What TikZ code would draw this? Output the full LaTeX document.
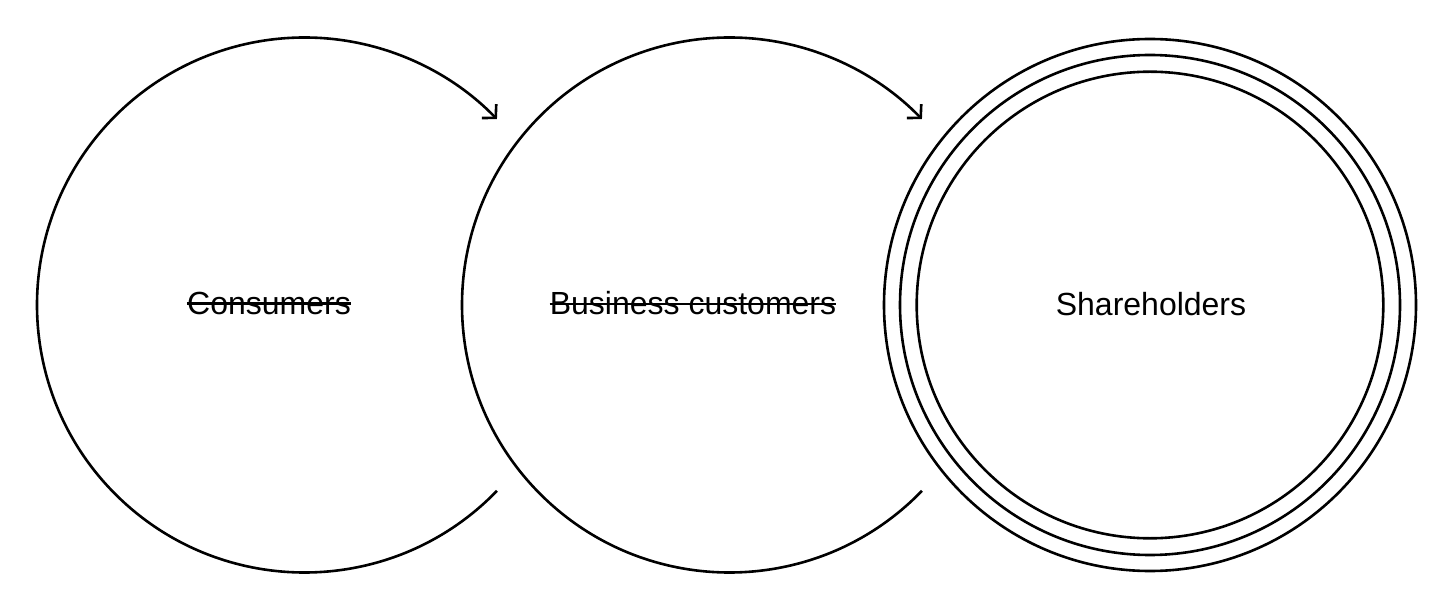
\documentclass[tikz,border=0pt]{standalone}
\usepackage{fontspec}
\setmainfont{Liberation Sans}
\usetikzlibrary{arrows.meta}
\begin{document}
\begin{tikzpicture}[x=1pt,y=1pt,
  ring/.style={line width=2.6pt,draw=black},
  flow/.style={line width=2.6pt,draw=black,-{Straight Barb[length=9.5pt,width=20pt,line width=2.6pt]}},
  label/.style={inner sep=0pt,anchor=base,font=\fontsize{32}{38}\selectfont},
  strike/.style={line width=2.2pt,draw=black}]
\useasboundingbox (0,0) rectangle (1456,611);
\coordinate (c1) at (304.5,306);
\coordinate (c2) at (729.5,306);
\coordinate (c3) at (1150,306);
% first open circle with arrow
\draw[flow] (c1) ++(-44:267.5) arc[start angle=-44,end angle=-316,radius=267.5];
% second open circle with arrow
\draw[flow] (c2) ++(-44:267.5) arc[start angle=-44,end angle=-316,radius=267.5];
% concentric circles
\draw[ring] (c3) circle[radius=266];
\draw[ring] (c3) circle[radius=250];
\draw[ring] (c3) circle[radius=233.3];
% labels
\node[label] (t1) at (269,296) {Consumers};
\node[label] (t2) at (693,296) {Business customers};
\node[label] (t3) at (1151,295) {Shareholders};
\draw[strike] ([yshift=11.5pt]t1.base west) -- ([yshift=11.5pt]t1.base east);
\draw[strike] ([yshift=11pt]t2.base west) -- ([yshift=11pt]t2.base east);
\end{tikzpicture}
\end{document}
